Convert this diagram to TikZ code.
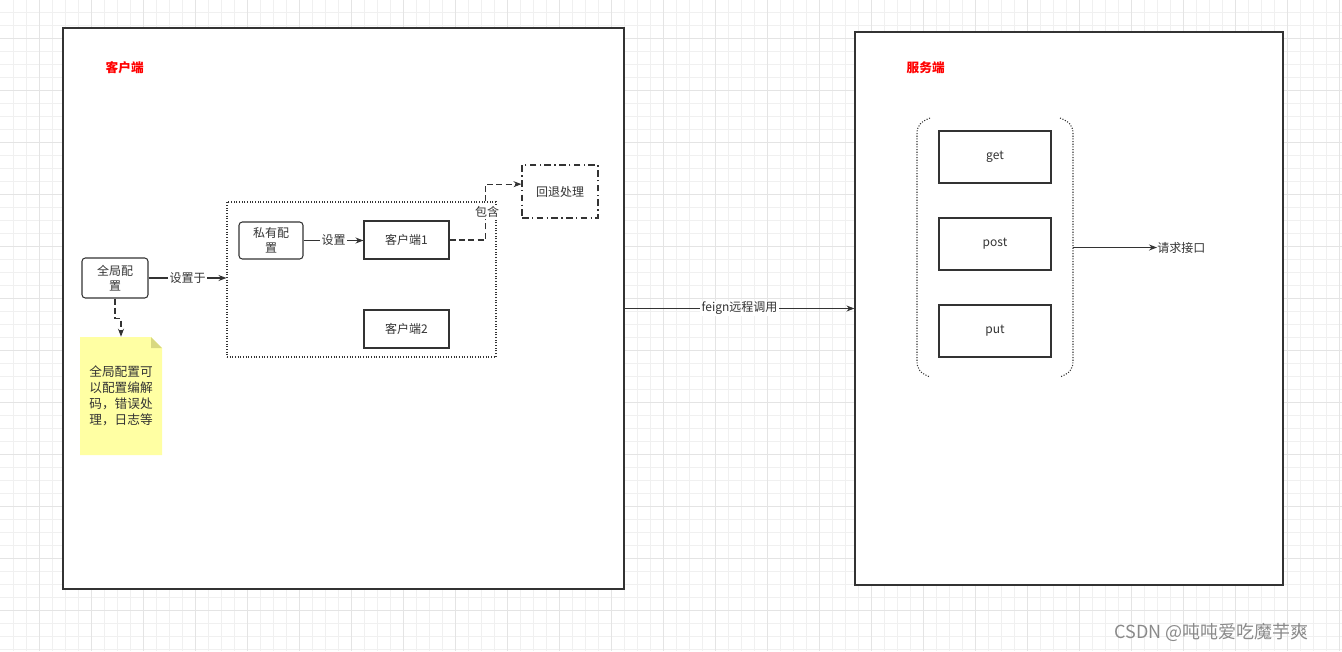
\documentclass[tikz,border=0pt]{standalone}
\usepackage{fontspec}
\setmainfont{Noto Sans CJK SC}
\usetikzlibrary{arrows.meta,calc}
\definecolor{ink}{HTML}{333333}
\definecolor{gridminor}{HTML}{F0F0F0}
\definecolor{gridmajor}{HTML}{E4E4E4}
\definecolor{notefill}{HTML}{FFFFA3}
\definecolor{notefold}{HTML}{D8D880}
\definecolor{wm}{HTML}{8A8A8A}
\begin{document}
\begin{tikzpicture}[x=0.75pt,y=-0.75pt,
  every node/.style={text=ink,font=\fontsize{9pt}{11pt}\selectfont},
  panel/.style={draw=ink,line width=0.85pt,fill=white,inner sep=0pt},
  plainbox/.style={draw=ink,line width=0.8pt,fill=white,inner sep=0pt,align=center},
  roundbox/.style={plainbox,rounded corners=2.5pt},
  dotbox/.style={draw=ink,line width=0.8pt,dash pattern=on 0.8pt off 1.2pt,inner sep=0pt},
  dashdotbox/.style={draw=ink,line width=0.8pt,dash pattern=on 5pt off 2.5pt on 1pt off 2.5pt,fill=white,inner sep=0pt},
  arr/.style={draw=ink,line width=0.8pt,-{Stealth[length=6pt,width=4.5pt]}},
  dasharr/.style={arr,dash pattern=on 4.5pt off 2.5pt},
  lbl/.style={fill=white,inner sep=1pt},
  title/.style={text=red,font=\fontsize{9.5pt}{11pt}\selectfont\bfseries,anchor=west}
]
% background and grid
\fill[white] (0,0) rectangle (1342,651);
\useasboundingbox (0,0) rectangle (1342,651);
\foreach \i in {1,...,103} \draw[gridminor,line width=0.6pt] (\i*13,0) -- (\i*13,651);
\foreach \i in {1,...,50} \draw[gridminor,line width=0.6pt] (0,\i*13-1) -- (1342,\i*13-1);
\foreach \i in {3,7,...,103} \draw[gridmajor,line width=0.7pt] (\i*13,0) -- (\i*13,651);
\foreach \i in {3,7,...,50} \draw[gridmajor,line width=0.7pt] (0,\i*13-1) -- (1342,\i*13-1);

% panels
\node[panel,minimum width=420.75pt,minimum height=420.75pt] (client) at (343.5,308.5) {};
\node[panel,minimum width=321pt,minimum height=414.75pt] (server) at (1069,308.5) {};
\node[title] (ctitle) at (101,68) {客户端};
\node[title] (stitle) at (902,68) {服务端};

% client side
\node[dotbox,minimum width=201.75pt,minimum height=116.25pt] (group) at (361.5,279.5) {};
\node[roundbox,minimum width=49.5pt,minimum height=30pt] (global) at (115,278) {全局配\\置};
\node[roundbox,minimum width=48pt,minimum height=27.75pt] (private) at (271,240.5) {私有配\\置};
\node[plainbox,minimum width=63.75pt,minimum height=28.5pt] (c1) at (406.5,240) {客户端1};
\node[plainbox,minimum width=63.75pt,minimum height=28.5pt] (c2) at (406.5,329) {客户端2};
\node[dashdotbox,minimum width=57pt,minimum height=39.75pt] (fb) at (560,191.5) {回退处理};

% note
\fill[notefill] (80,337) -- (151,337) -- (162,348) -- (162,455) -- (80,455) -- cycle;
\fill[notefold] (151,337) -- (151,348) -- (162,348) -- cycle;
\node[inner sep=0pt,align=center,minimum width=61.5pt,minimum height=88.5pt,font=\fontsize{9.5pt}{12pt}\selectfont] (note) at (121,396) {全局配置可\\以配置编解\\码，错误处\\理，日志等};

% connectors
\draw[arr] (global.east) -- node[lbl] (l1) {设置于} (group.west |- global.east);
\draw[arr] (private.east) -- node[lbl] (l2) {设置} (c1.west |- private.east);
\draw[dasharr] (c1.east) -- ++(36,0) |- ([yshift=5.5pt]fb.west);
\node[lbl] (l3) at (487,212) {包含};
\draw[dasharr] (global.south) -- ++(0,20) -| (note.north);

% feign
\draw[arr] (client.east) -- node[lbl] (l4) {feign远程调用} (server.west);

% server side
\node[inner sep=0pt,minimum width=117pt,minimum height=194.25pt] (brk) at (995,247.5) {};
\draw[ink,line width=0.8pt,dash pattern=on 0.8pt off 1.2pt]
  (930,118) .. controls (920,122) and (917,126) .. (917,134) -- (917,361) .. controls (917,369) and (920,373) .. (930,377);
\draw[ink,line width=0.8pt,dash pattern=on 0.8pt off 1.2pt]
  (1060,118) .. controls (1070,122) and (1073,126) .. (1073,134) -- (1073,361) .. controls (1073,369) and (1070,373) .. (1060,377);
\node[plainbox,minimum width=84pt,minimum height=39pt] (get) at (995,157) {get};
\node[plainbox,minimum width=84pt,minimum height=39pt] (post) at (995,244) {post};
\node[plainbox,minimum width=84pt,minimum height=39pt] (put) at (995,331) {put};
\node[anchor=west,inner sep=0pt] (req) at (1157,247.5) {请求接口};
\draw[arr] (brk.east) -- (req.west);

% watermark
\node[anchor=west,inner sep=0pt,text=wm,font=\fontsize{13.5pt}{15pt}\selectfont] (wmk) at (1114,632) {CSDN @吨吨爱吃魔芋爽};
\end{tikzpicture}
\end{document}
